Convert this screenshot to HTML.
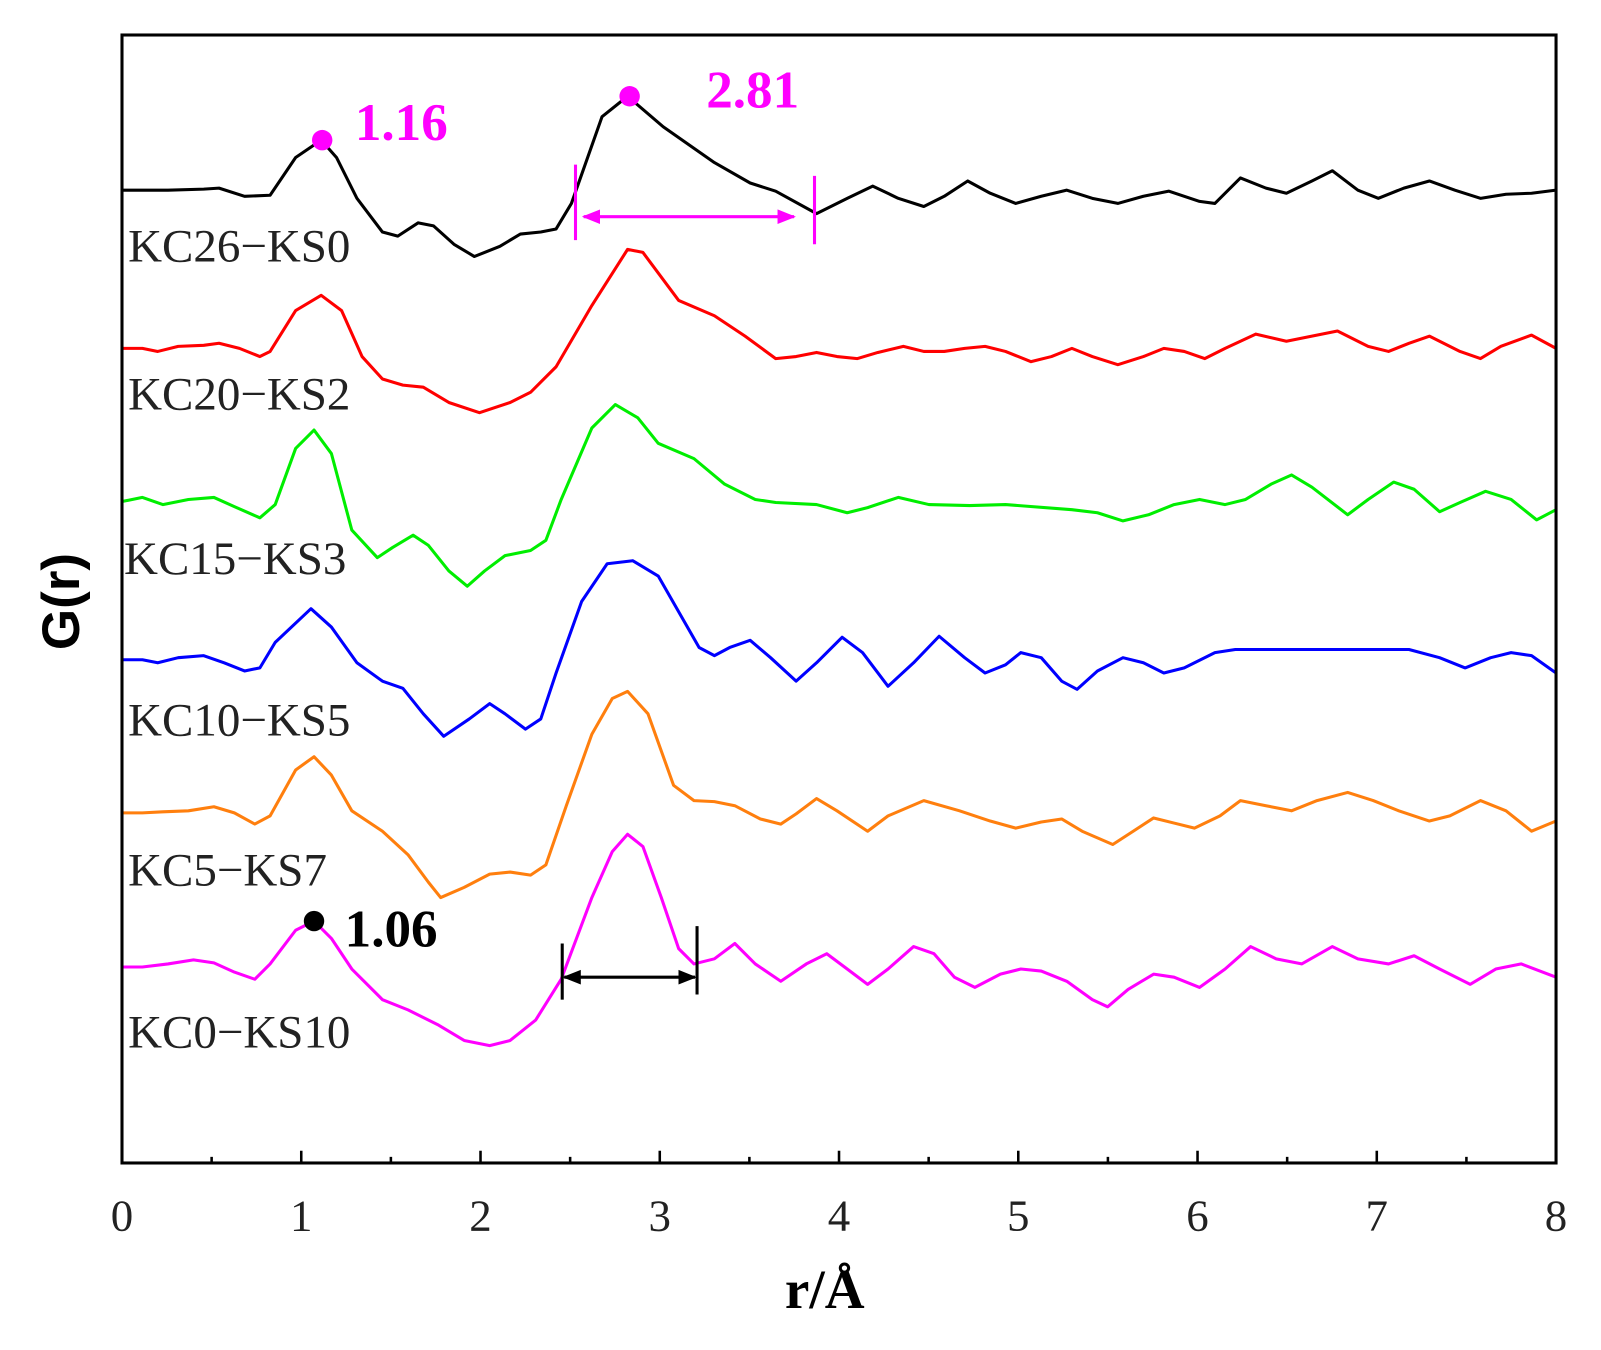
<!DOCTYPE html>
<html><head><meta charset="utf-8"><style>body{margin:0;background:#fff}svg{display:block}</style></head><body>
<svg width="1601" height="1350" viewBox="0 0 1601 1350" xmlns="http://www.w3.org/2000/svg" font-family="'Liberation Serif',serif">
<defs>
<marker id="am" viewBox="0 0 10 10" refX="9" refY="5" markerWidth="6" markerHeight="6" orient="auto-start-reverse"><path d="M0,1 L10,5 L0,9 z" fill="#f0f"/></marker>
<marker id="ak" viewBox="0 0 10 10" refX="9" refY="5" markerWidth="6" markerHeight="6" orient="auto-start-reverse"><path d="M0,1 L10,5 L0,9 z" fill="#000"/></marker>
</defs>
<g transform="translate(122,35) scale(1.0214,1.0208) translate(-120,-35)">
<g fill="none" stroke-width="3" stroke-linejoin="round">
<polyline stroke="#000" points="120,187 165,187 200,186 215,185 240,193 265,192 290,155 315,138 330,155 350,195 375,228 390,232 410,219 425,222 445,240 465,252 490,242 510,230 530,228 545,225 560,200 590,115 615,95 650,125 700,160 735,180 760,188 800,210 830,195 855,183 880,195 905,203 925,193 948,178 970,190 995,200 1020,193 1045,187 1070,195 1095,200 1120,193 1145,188 1175,198 1190,200 1215,175 1240,185 1260,190 1285,178 1305,168 1330,187 1350,195 1375,185 1400,178 1425,187 1450,195 1475,191 1500,190 1524,187"/>
<polyline stroke="#f00" points="120,342 140,342 155,345 175,340 200,339 215,337 235,342 255,350 265,345 290,305 315,290 335,305 355,350 375,372 395,378 415,380 440,395 470,405 500,395 520,385 545,360 580,300 615,245 630,248 665,295 700,310 730,330 760,352 780,350 800,346 820,350 840,352 860,346 885,340 905,345 925,345 945,342 965,340 985,345 1010,355 1030,350 1050,342 1070,350 1095,358 1120,350 1140,342 1160,345 1180,352 1200,342 1230,328 1260,335 1285,330 1310,325 1340,340 1360,345 1380,337 1400,330 1430,345 1450,352 1470,340 1500,329 1524,342"/>
<polyline stroke="#0e0" points="120,492 140,488 160,495 185,490 210,488 230,497 255,508 270,495 290,440 308,422 325,445 345,520 370,547 385,537 405,525 420,535 440,560 458,575 475,560 495,545 520,540 535,530 550,490 580,420 603,397 625,410 645,435 680,450 710,475 740,490 760,493 800,495 830,503 850,498 880,488 910,495 950,496 985,495 1050,500 1075,503 1100,511 1125,505 1150,495 1175,490 1200,495 1220,490 1245,475 1265,466 1285,478 1320,505 1340,490 1365,473 1385,480 1410,502 1430,493 1455,482 1480,490 1505,510 1524,500"/>
<polyline stroke="#00f" points="120,647 140,647 155,650 175,645 200,643 220,650 240,658 255,655 270,630 305,597 325,615 350,650 375,668 395,675 415,700 435,722 460,705 480,690 495,700 515,715 530,705 545,660 570,590 595,553 620,550 645,565 665,600 685,635 700,643 715,635 735,628 755,645 780,668 800,650 825,625 845,640 870,673 895,650 920,624 945,645 965,660 985,652 1000,640 1020,645 1040,668 1055,676 1075,658 1100,645 1120,650 1140,660 1160,655 1190,640 1210,637 1300,637 1380,637 1410,645 1435,655 1460,645 1480,640 1500,643 1524,660"/>
<polyline stroke="#ff7f0e" points="120,797 140,797 160,796 185,795 210,791 230,797 250,808 265,800 290,755 308,742 325,760 345,795 375,815 400,838 420,865 432,880 455,870 480,857 500,855 520,858 535,848 555,790 580,720 600,685 615,678 635,700 660,770 680,785 700,786 720,790 745,803 765,808 780,798 800,783 820,795 850,815 870,800 905,785 940,795 970,805 995,812 1020,806 1040,803 1060,815 1090,828 1110,815 1130,802 1150,807 1170,812 1195,800 1215,785 1240,790 1265,795 1290,785 1320,777 1345,785 1370,795 1400,805 1420,800 1450,785 1475,795 1500,815 1524,805"/>
<polyline stroke="#f0f" points="120,948 140,948 165,945 190,941 210,944 230,953 250,960 265,945 290,912 308,903 325,920 345,950 375,980 400,990 430,1005 455,1020 480,1025 500,1020 525,1000 550,960 580,880 600,835 615,818 630,830 648,880 665,930 680,945 700,940 720,925 740,945 765,962 790,945 810,935 830,950 850,965 870,950 895,928 915,935 935,958 955,968 980,955 1000,950 1020,952 1045,962 1070,980 1085,987 1105,970 1130,955 1150,958 1175,968 1200,950 1225,928 1250,940 1275,945 1305,928 1330,940 1360,945 1385,937 1410,950 1440,965 1465,950 1490,945 1524,958"/>
</g>
<rect x="120" y="35" width="1404" height="1105" fill="none" stroke="#000" stroke-width="3"/>
<g stroke="#000" stroke-width="2.5">
<line x1="295.5" y1="1140" x2="295.5" y2="1128"/><line x1="471" y1="1140" x2="471" y2="1128"/><line x1="646.5" y1="1140" x2="646.5" y2="1128"/><line x1="822" y1="1140" x2="822" y2="1128"/><line x1="997.5" y1="1140" x2="997.5" y2="1128"/><line x1="1173" y1="1140" x2="1173" y2="1128"/><line x1="1348.5" y1="1140" x2="1348.5" y2="1128"/>
<line x1="207.75" y1="1140" x2="207.75" y2="1134"/><line x1="383.25" y1="1140" x2="383.25" y2="1134"/><line x1="558.75" y1="1140" x2="558.75" y2="1134"/><line x1="734.25" y1="1140" x2="734.25" y2="1134"/><line x1="909.75" y1="1140" x2="909.75" y2="1134"/><line x1="1085.25" y1="1140" x2="1085.25" y2="1134"/><line x1="1260.75" y1="1140" x2="1260.75" y2="1134"/><line x1="1436.25" y1="1140" x2="1436.25" y2="1134"/>
</g>
<g font-size="44" text-anchor="middle" fill="#222">
<text x="120" y="1206">0</text><text x="295.5" y="1206">1</text><text x="471" y="1206">2</text><text x="646.5" y="1206">3</text><text x="822" y="1206">4</text><text x="997.5" y="1206">5</text><text x="1173" y="1206">6</text><text x="1348.5" y="1206">7</text><text x="1524" y="1206">8</text>
</g>
<text x="808" y="1282" font-size="54" font-weight="bold" text-anchor="middle">r/Å</text>
<text transform="translate(78,590) rotate(-90)" font-size="52" font-weight="bold" text-anchor="middle" font-family="'Liberation Sans',sans-serif">G(r)</text>
<g font-size="46" fill="#222">
<text x="126" y="257">KC26−KS0</text><text x="126" y="402">KC20−KS2</text><text x="122" y="563">KC15−KS3</text><text x="126" y="721">KC10−KS5</text><text x="126" y="868">KC5−KS7</text><text x="126" y="1027">KC0−KS10</text>
</g>
<circle cx="316" cy="138" r="10" fill="#f0f"/><circle cx="617" cy="95" r="10" fill="#f0f"/>
<text x="348" y="138" font-size="52" font-weight="bold" fill="#f0f">1.16</text>
<text x="692" y="106" font-size="52" font-weight="bold" fill="#f0f">2.81</text>
<g stroke="#f0f" stroke-width="3"><line x1="564" y1="162" x2="564" y2="236"/><line x1="798" y1="173" x2="798" y2="240"/><line x1="572" y1="213" x2="778" y2="213" marker-start="url(#am)" marker-end="url(#am)"/></g>
<circle cx="308" cy="903" r="10" fill="#000"/>
<text x="338" y="928" font-size="52" font-weight="bold">1.06</text>
<g stroke="#000" stroke-width="3"><line x1="551" y1="925" x2="551" y2="980"/><line x1="683" y1="908" x2="683" y2="975"/><line x1="553" y1="958" x2="681" y2="958" marker-start="url(#ak)" marker-end="url(#ak)"/></g>
</g>
</svg>
</body></html>
